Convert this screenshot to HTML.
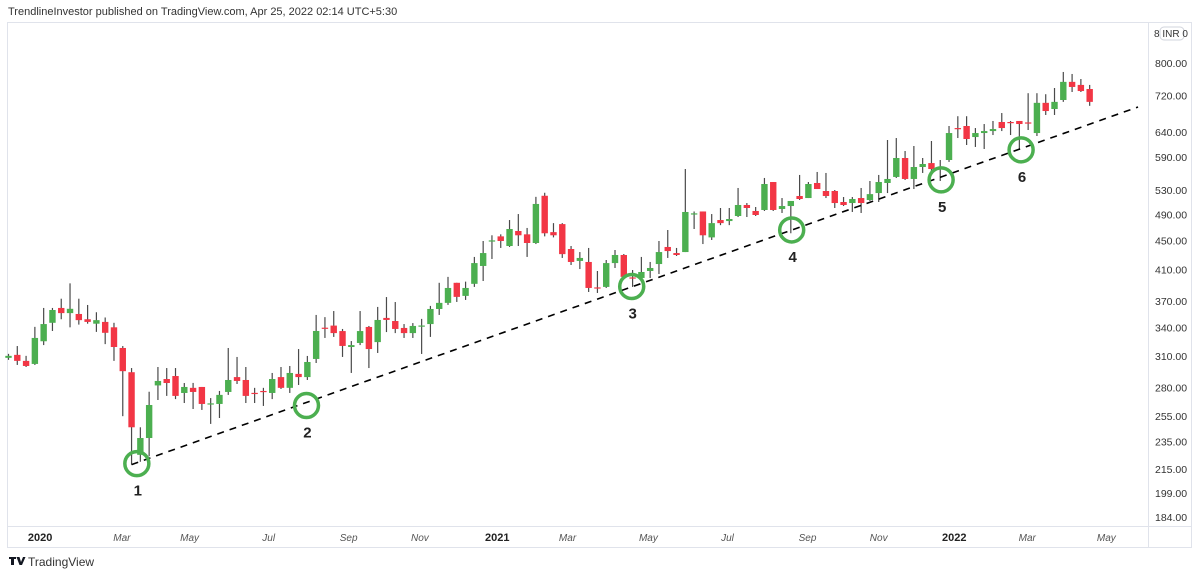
<!DOCTYPE html>
<html><head><meta charset="utf-8">
<style>
body{margin:0;background:#fff;width:1200px;height:576px;overflow:hidden;font-family:"Liberation Sans",sans-serif;}
svg text{font-family:"Liberation Sans",sans-serif;}
</style></head>
<body>
<svg id="c" width="1200" height="576" viewBox="0 0 1200 576" xmlns="http://www.w3.org/2000/svg">
<text x="8" y="15" font-size="11" fill="#333">TrendlineInvestor published on TradingView.com, Apr 25, 2022 02:14 UTC+5:30</text>
<rect x="7.5" y="22.5" width="1184" height="525" fill="#fff" stroke="#e0e3eb"/>
<line x1="1148.5" y1="22" x2="1148.5" y2="548" stroke="#e0e3eb"/>
<line x1="7" y1="526.5" x2="1192" y2="526.5" stroke="#e0e3eb"/>
<g id="candles"></g>
<g id="trend"></g>
<g id="marks"></g>
<g id="yaxis"></g>
<g id="xaxis"></g>
<rect x="1160" y="27" width="24" height="13" rx="4" fill="#fff" stroke="#d1d4dc"/>
<text x="1154" y="37" font-size="10" fill="#333">8 INR 0</text>
<g>
<path d="M9 557h7v2h-2v6h-3v-6h-2z M16.5 557h3l1.5 5 2-5h2.5l-3.5 8h-2.5z" fill="#131722"/>
<text x="28" y="566" font-size="12" fill="#333">TradingView</text>
</g>
</svg>
<script>
const opens=[308,311,305,302,325,345,362,356,355,349,344,346,340,318,294,225,237.6,281.7,287.6,290.4,274.9,279.5,280.3,264.9,265.3,275.8,289.4,286.7,275,276.7,274.9,289.4,279.5,292.4,289.4,306.9,339.6,341.9,335.9,319,323.2,340.4,324.1,350.5,347,339.3,333.7,341,343.6,360.8,368,392.7,376.4,391.4,414.7,449,456.4,442.4,464.4,459.4,446.7,520.5,462.7,474.9,438.1,421.5,420.1,386.9,387.5,418.6,429.7,399.6,398.9,408,417.3,441,432.4,433.8,490.1,494.7,454.9,481.2,479.6,487.5,505.2,495.5,497.1,544.2,498.7,503.5,520.1,516.7,542.5,528.6,528.6,510.1,508.4,516.7,513.4,525.1,542.5,553.2,588.2,549.6,571.3,578.6,567.6,584.4,648.1,652.4,629.5,637.7,641.8,660.9,660.9,663.1,660,637.7,703.2,689.3,709.7,752.6,745.2,735.4];
const highs=[312,320,310,340.5,362,362,373,392,373,365.5,357,351,345,320,298,246,276,299,298,298,283.9,284,280.3,270.4,276.7,318,308.9,299,279.5,279.5,293.3,299,300,316.9,309.9,353.9,351.4,358.4,338.2,325.2,358.4,341.5,363.2,375,369,343.6,344.7,349.4,364.4,392.7,400.3,392.7,394.2,427,449.6,458,459.4,481.2,490.6,469,518.7,525.6,476.4,476.4,442.4,433.8,439.6,408,422.8,436.7,431.1,409.3,427,420.1,449.6,465.9,439.6,567.6,494.7,494.7,490.6,500.3,500.3,533.8,508.4,501.9,551.4,544.2,516.7,511.8,556.8,544.2,562.2,560.4,530.3,518.4,518.4,533.8,546,556.8,623.5,627.5,601.7,611.5,588.2,621.5,584.4,652.4,673.4,673.4,648.1,656.6,663.1,680.4,663.1,663.1,725.5,725.5,723.1,737.8,777.1,772.1,759.6,745.2];
const lows=[306,301,299,301,321,336,349,340,343,344,335,322,305,255,218,220,224,268.7,272.3,269.5,266.1,261,260.2,248.7,253.5,273.2,283,266.1,266.1,263.6,269.5,278.5,274.9,282.1,286.7,302.9,328.5,329.6,308.9,293.3,321,298,312.9,334.8,333.7,328.5,328.5,311.9,329.6,353.9,365.6,369.1,371.5,387.5,395,424.2,439.6,441,442.4,427,445.2,456.4,454.9,425.6,416,410.6,381.2,380,386.2,412,398.9,387.5,396.3,398.9,404,425.6,428.3,433.8,467.4,445.2,451.1,473.3,473.3,485.9,485.9,487.5,495.5,495.5,492.3,461,513.4,516.7,532,516.7,500.3,503.5,493.9,492.3,511.8,510.1,525.1,551.4,547.8,532,560.4,562.2,546,580.8,627.5,613.5,609.6,605.6,633.6,641.8,633.6,603.6,644,631.6,676.1,676.1,705.4,728.3,728.3,696.4];
const closes=[310,305,300,328.5,343.6,359.6,356,361,348,346,348,334,319,295,246,237.6,264.4,285.8,283.9,272.3,280.3,275.8,265.3,265.8,273.2,286.7,285.8,272.3,274.1,275.8,287.6,279.5,293.3,289.4,303.9,336,338.5,333.7,320.1,321,335.9,316.9,348.2,348.2,338.2,333.7,341.5,342,360.8,368,386.2,375.2,386.2,418.6,432.4,450.5,449.6,467.4,458,446.7,506.9,461,458,430.9,420.1,425.6,386.2,385.6,418.6,429.7,400.3,398.2,406.7,412,433.8,435.2,429.7,493.9,491.7,458,476.4,476.4,482.8,505.2,500.3,489.1,540.7,497.1,503.5,511.8,515.1,540.7,532,520.1,508.4,505.2,515.1,508.4,523.3,544.2,549.6,588.2,549.6,571.3,576.9,567.6,571.3,637.7,646,625.5,637.7,641.8,646,648.1,658.8,656.6,657.7,703.2,684.8,705.4,752.6,740.3,730.6,705.4];
const priceTicks=[800,720,640,590,530,490,450,410,370,340,310,280,255,235,215,199,184];
const timeLabels=["2020","Mar","May","Jul","Sep","Nov","2021","Mar","May","Jul","Sep","Nov","2022","Mar","May"];
const timeLabelIdx=[3.6,12.9,20.6,29.6,38.7,46.8,55.6,63.6,72.8,81.8,90.9,99,107.6,115.9,124.9];
const trendIdx=[14,128.5];
const trendPrice=[218,693.8];
const touchIdx=[14.6,33.9,70.9,89.1,106.1,115.2];
const touchPrice=[218.7,264,388,466,548,604];
const touchLabels=["1","2","3","4","5","6"];

const NS="http://www.w3.org/2000/svg";
const X0=8.5,STEP=8.79;
function xs(i){return X0+i*STEP;}
function ys(p){return 63+308.9*Math.log(800/p);}
function mk(tag,attrs,parent){const e=document.createElementNS(NS,tag);for(const k in attrs)e.setAttribute(k,attrs[k]);parent.appendChild(e);return e;}

const cg=document.getElementById('candles');
for(let i=0;i<opens.length;i++){
  const up=closes[i]>=opens[i];
  const col=up?'#4caf50':'#f23645';
  const x=xs(i);
  const g=mk('g',{},cg);
  
  
  const w=mk('line',{x1:x,x2:x,y1:ys(highs[i]),y2:ys(lows[i]),stroke:'#4a4a4a','stroke-width':1.2},g);
  
  
  const t=Math.min(ys(opens[i]),ys(closes[i]));
  const h=Math.max(1.2,Math.abs(ys(opens[i])-ys(closes[i])));
  const b=mk('rect',{x:x-3.2,y:t,width:6.4,height:h,fill:col},g);
  
  
}

const tg=document.getElementById('trend');
const tl=mk('line',{x1:xs(trendIdx[0]),y1:ys(trendPrice[0]),x2:xs(trendIdx[1]),y2:ys(trendPrice[1]),stroke:'#000','stroke-width':1.6,'stroke-dasharray':'7 6'},tg);



const mg=document.getElementById('marks');
for(let k=0;k<touchIdx.length;k++){
  const cx=xs(touchIdx[k]),cy=ys(touchPrice[k]);
  const c=mk('circle',{cx:cx,cy:cy,r:12,fill:'none',stroke:'#4caf50','stroke-width':3.5},mg);
  
  
  const t=mk('text',{x:cx+1,y:cy+32,'font-size':15,'font-weight':'bold','text-anchor':'middle',fill:'#222'},mg);
  
  
  t.textContent=touchLabels[k];
}

const yg=document.getElementById('yaxis');
priceTicks.forEach(p=>{
  const t=mk('text',{x:1155,y:ys(p)+4,'font-size':10.5,fill:'#333'},yg);
  
  
  t.textContent=p.toFixed(2);
});

const xg=document.getElementById('xaxis');
timeLabels.forEach((l,k)=>{
  const yr=/^\d{4}$/.test(l);
  const t=mk('text',{x:xs(timeLabelIdx[k]),y:541,'font-size':yr?11:10,'text-anchor':'middle',fill:yr?'#222':'#555','font-weight':yr?'bold':'normal','font-style':yr?'normal':'italic'},xg);
  
  
  t.textContent=l;
});
</script>
</body></html>
